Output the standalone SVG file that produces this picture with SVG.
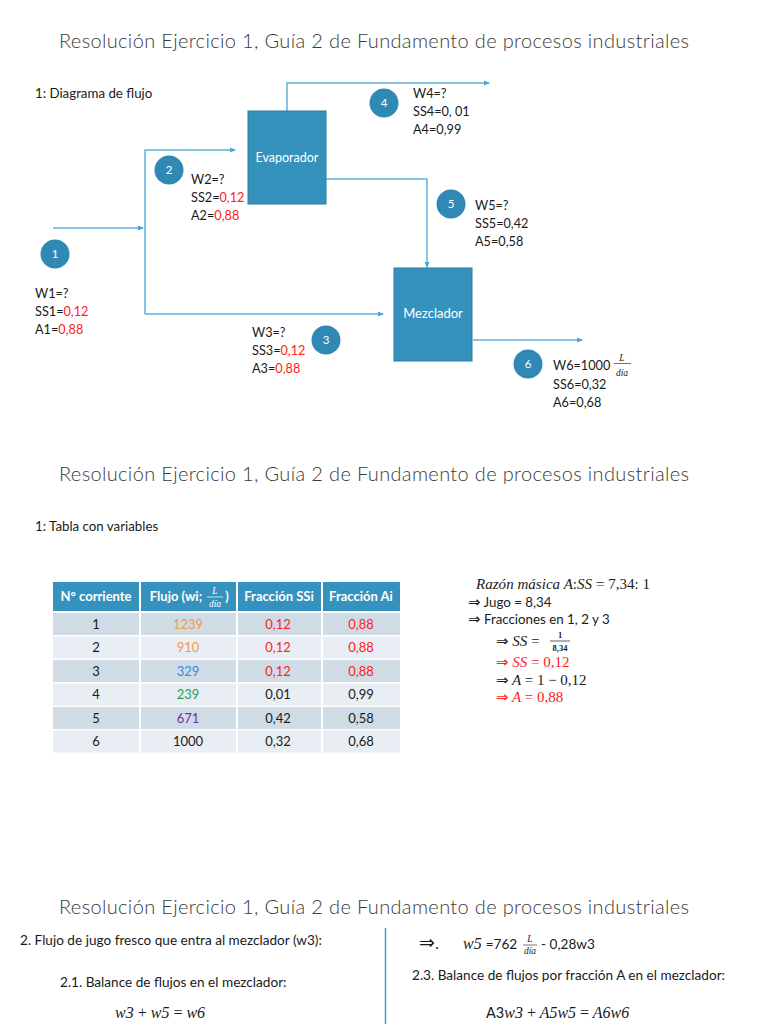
<svg xmlns="http://www.w3.org/2000/svg" width="768" height="1024" viewBox="0 0 768 1024">
<defs>
<marker id="arr" viewBox="0 0 6 6" refX="5" refY="3" markerWidth="6" markerHeight="6" markerUnits="userSpaceOnUse" orient="auto">
<path d="M0,0.5 L6,3 L0,5.5 Z" fill="#4BA6D3"/>
</marker>
<style>
.title{font-family:Lato,"Open Sans",sans-serif;font-size:20px;font-weight:300;fill:#3a3a3a}
.t{font-family:Lato,"Open Sans",sans-serif;font-size:12.7px;fill:#1a1a1a}
.s{font-family:Lato,"Open Sans",sans-serif;font-size:13.3px;fill:#1a1a1a}
.b{font-family:Lato,"Open Sans",sans-serif;font-size:13.6px;fill:#1a1a1a}
.r{fill:#FF2020}
.box{fill:#3592BD;stroke:#2C7DA6;stroke-width:1}
.boxt{font-family:Lato,"Open Sans",sans-serif;font-size:12.5px;fill:#FFFFFF;text-anchor:middle}
.circ{fill:#2F89B4}
.ct{font-family:Lato,"Open Sans",sans-serif;font-size:11.5px;fill:#FFFFFF;text-anchor:middle}
.ln{fill:none;stroke:#5DB2DA;stroke-width:1.5}
.hd{fill:#3592BE}
.odd{fill:#CFDCE6}
.even{fill:#E8EEF3}
.th{font-family:Lato,"Open Sans",sans-serif;font-size:13px;font-weight:bold;fill:#FFFFFF;text-anchor:middle}
.td{font-family:Lato,"Open Sans",sans-serif;font-size:13px;fill:#1a1a1a;text-anchor:middle}
.m{font-family:"Liberation Serif","DejaVu Serif",serif;font-style:italic;font-size:15px;fill:#1a1a1a}
.mb{font-family:"Liberation Serif","DejaVu Serif",serif;font-style:italic;font-size:16px;fill:#1a1a1a}
.up{font-style:normal}
.ar{font-family:"DejaVu Sans",sans-serif;font-style:normal;font-size:15px}
.fr{font-family:"Liberation Serif","DejaVu Serif",serif;font-style:italic;font-size:9.5px;fill:#1a1a1a;text-anchor:middle}
</style>
</defs>
<rect width="768" height="1024" fill="#FFFFFF"/>

<!-- Section 1 -->
<text class="title" x="59" y="48" textLength="630">Resolución Ejercicio 1, Guía 2 de Fundamento de procesos industriales</text>
<text class="s" x="35" y="98">1: Diagrama de flujo</text>

<g id="connectors">
<path class="ln" d="M53,228 H143" marker-end="url(#arr)"/>
<path class="ln" d="M145,314 V150 H235" marker-end="url(#arr)"/>
<path class="ln" d="M145,314 H383" marker-end="url(#arr)"/>
<path class="ln" d="M287,111 V83 H489" marker-end="url(#arr)"/>
<path class="ln" d="M326,179 H427 V267" marker-end="url(#arr)"/>
<path class="ln" d="M473,340 H582" marker-end="url(#arr)"/>
</g>

<g id="evaporador">
<rect class="box" x="248" y="111" width="78" height="93"/>
<text class="boxt" x="287" y="162" font-size="11.5">Evaporador</text>
</g>
<g id="mezclador">
<rect class="box" x="394" y="268" width="78" height="93"/>
<text class="boxt" x="433" y="318" style="font-size:13px">Mezclador</text>
</g>

<g id="s1">
<circle class="circ" cx="55" cy="254" r="14.5"/>
<text class="ct" x="55" y="258">1</text>
<text class="t" x="35" y="298">W1=?</text>
<text class="t" x="35" y="316">SS1=<tspan class="r">0,12</tspan></text>
<text class="t" x="35" y="334">A1=<tspan class="r">0,88</tspan></text>
</g>
<g id="s2">
<circle class="circ" cx="169" cy="170" r="14.5"/>
<text class="ct" x="169" y="174">2</text>
<text class="t" x="191" y="184">W2=?</text>
<text class="t" x="191" y="202">SS2=<tspan class="r">0,12</tspan></text>
<text class="t" x="191" y="220">A2=<tspan class="r">0,88</tspan></text>
</g>
<g id="s3">
<circle class="circ" cx="326" cy="340" r="14.5"/>
<text class="ct" x="326" y="344">3</text>
<text class="t" x="252" y="337">W3=?</text>
<text class="t" x="252" y="355">SS3=<tspan class="r">0,12</tspan></text>
<text class="t" x="252" y="373">A3=<tspan class="r">0,88</tspan></text>
</g>
<g id="s4">
<circle class="circ" cx="384" cy="103" r="14.5"/>
<text class="ct" x="384" y="107">4</text>
<text class="t" x="413" y="98">W4=?</text>
<text class="t" x="413" y="116">SS4=0, 01</text>
<text class="t" x="413" y="134">A4=0,99</text>
</g>
<g id="s5">
<circle class="circ" cx="451" cy="204" r="14.5"/>
<text class="ct" x="451" y="208">5</text>
<text class="t" x="475" y="210">W5=?</text>
<text class="t" x="475" y="228">SS5=0,42</text>
<text class="t" x="475" y="246">A5=0,58</text>
</g>
<g id="s6">
<circle class="circ" cx="528" cy="364" r="14.5"/>
<text class="ct" x="528" y="368">6</text>
<text class="t" x="553" y="370">W6=1000</text>
<text class="fr" x="622" y="361">L</text>
<line x1="614" y1="363.5" x2="631" y2="363.5" stroke="#1a1a1a" stroke-width="0.6"/>
<text class="fr" x="622" y="376">día</text>
<text class="t" x="553" y="389">SS6=0,32</text>
<text class="t" x="553" y="407">A6=0,68</text>
</g>

<!-- Section 2 -->
<text class="title" x="59" y="481" textLength="630">Resolución Ejercicio 1, Guía 2 de Fundamento de procesos industriales</text>
<text class="s" x="35" y="531">1: Tabla con variables</text>

<g id="tabla">
<rect class="hd" x="53" y="582" width="86" height="29"/>
<rect class="hd" x="141" y="582" width="95" height="29"/>
<rect class="hd" x="238" y="582" width="83" height="29"/>
<rect class="hd" x="323" y="582" width="77" height="29"/>
<text class="th" x="96" y="601">N° corriente</text>
<text class="th" x="176" y="601">Flujo (wi;</text>
<text class="fr" x="215" y="594" style="fill:#FFFFFF">L</text>
<line x1="207" y1="597" x2="223" y2="597" stroke="#FFFFFF" stroke-width="0.7"/>
<text class="fr" x="215" y="607" style="fill:#FFFFFF">día</text>
<text class="th" x="227" y="601">)</text>
<text class="th" x="279" y="601">Fracción SSi</text>
<text class="th" x="361" y="601">Fracción Ai</text>

<g class="row">
<rect class="odd" x="53" y="613" width="86" height="22"/><rect class="odd" x="141" y="613" width="95" height="22"/><rect class="odd" x="238" y="613" width="83" height="22"/><rect class="odd" x="323" y="613" width="77" height="22"/>
<text class="td" x="96" y="628.5">1</text><text class="td" x="188" y="628.5" style="fill:#F79646">1239</text><text class="td" x="278" y="628.5" style="fill:#FF2020">0,12</text><text class="td" x="361" y="628.5" style="fill:#FF2020">0,88</text>
</g>
<g class="row">
<rect class="even" x="53" y="636.5" width="86" height="22"/><rect class="even" x="141" y="636.5" width="95" height="22"/><rect class="even" x="238" y="636.5" width="83" height="22"/><rect class="even" x="323" y="636.5" width="77" height="22"/>
<text class="td" x="96" y="652">2</text><text class="td" x="188" y="652" style="fill:#F79646">910</text><text class="td" x="278" y="652" style="fill:#FF2020">0,12</text><text class="td" x="361" y="652" style="fill:#FF2020">0,88</text>
</g>
<g class="row">
<rect class="odd" x="53" y="660" width="86" height="22"/><rect class="odd" x="141" y="660" width="95" height="22"/><rect class="odd" x="238" y="660" width="83" height="22"/><rect class="odd" x="323" y="660" width="77" height="22"/>
<text class="td" x="96" y="675.5">3</text><text class="td" x="188" y="675.5" style="fill:#3B8AD6">329</text><text class="td" x="278" y="675.5" style="fill:#FF2020">0,12</text><text class="td" x="361" y="675.5" style="fill:#FF2020">0,88</text>
</g>
<g class="row">
<rect class="even" x="53" y="683.5" width="86" height="22"/><rect class="even" x="141" y="683.5" width="95" height="22"/><rect class="even" x="238" y="683.5" width="83" height="22"/><rect class="even" x="323" y="683.5" width="77" height="22"/>
<text class="td" x="96" y="699">4</text><text class="td" x="188" y="699" style="fill:#1F9E50">239</text><text class="td" x="278" y="699">0,01</text><text class="td" x="361" y="699">0,99</text>
</g>
<g class="row">
<rect class="odd" x="53" y="707" width="86" height="22"/><rect class="odd" x="141" y="707" width="95" height="22"/><rect class="odd" x="238" y="707" width="83" height="22"/><rect class="odd" x="323" y="707" width="77" height="22"/>
<text class="td" x="96" y="722.5">5</text><text class="td" x="188" y="722.5" style="fill:#7030A0">671</text><text class="td" x="278" y="722.5">0,42</text><text class="td" x="361" y="722.5">0,58</text>
</g>
<g class="row">
<rect class="even" x="53" y="730.5" width="86" height="22"/><rect class="even" x="141" y="730.5" width="95" height="22"/><rect class="even" x="238" y="730.5" width="83" height="22"/><rect class="even" x="323" y="730.5" width="77" height="22"/>
<text class="td" x="96" y="746">6</text><text class="td" x="188" y="746">1000</text><text class="td" x="278" y="746">0,32</text><text class="td" x="361" y="746">0,68</text>
</g>
</g>

<g id="razon">
<text class="m" x="476" y="589" textLength="174">Razón másica A<tspan class="up">:</tspan>SS <tspan class="up">= 7,34: 1</tspan></text>
<text class="s" x="468" y="607"><tspan class="ar">⇒</tspan> Jugo = 8,34</text>
<text class="s" x="468" y="624"><tspan class="ar">⇒</tspan> Fracciones en 1, 2 y 3</text>
<text class="m" x="496" y="646"><tspan class="ar">⇒</tspan> SS <tspan class="up">=</tspan></text>
<text x="560" y="638" style="font-family:'Liberation Serif',serif;font-size:8.5px;font-weight:bold;fill:#1a1a1a;text-anchor:middle">1</text>
<line x1="550" y1="641" x2="570" y2="641" stroke="#1a1a1a" stroke-width="0.7"/>
<text x="560" y="651" style="font-family:'Liberation Serif',serif;font-size:8.5px;font-weight:bold;fill:#1a1a1a;text-anchor:middle">8,34</text>
<text class="m" x="496" y="667" style="fill:#FF2020"><tspan class="ar">⇒</tspan> SS <tspan class="up">= 0,12</tspan></text>
<text class="m" x="496" y="684.5"><tspan class="ar">⇒</tspan> A <tspan class="up">= 1 − 0,12</tspan></text>
<text class="m" x="496" y="702"><tspan class="ar" style="fill:#FF2020">⇒</tspan><tspan style="fill:#FF2020"> A </tspan><tspan class="up" style="fill:#FF2020">= 0,88</tspan></text>
</g>

<!-- Section 3 -->
<text class="title" x="59" y="914" textLength="630">Resolución Ejercicio 1, Guía 2 de Fundamento de procesos industriales</text>
<line x1="385.5" y1="928" x2="385.5" y2="1024" stroke="#3C9BD3" stroke-width="1.5"/>
<text class="b" x="20" y="945">2. Flujo de jugo fresco que entra al mezclador (w3):</text>
<text class="b" x="60" y="987">2.1. Balance de flujos en el mezclador:</text>
<text class="mb" x="115" y="1018">w3 <tspan class="up">+</tspan> w5 <tspan class="up">=</tspan> w6</text>

<text class="mb" x="419" y="949"><tspan class="ar" style="font-size:19px">⇒</tspan><tspan class="up">.</tspan></text>
<text class="mb" x="463" y="949">w5 <tspan class="up" style="font-family:Lato,sans-serif;font-size:13.6px">=762</tspan></text>
<text class="fr" x="530" y="942">L</text>
<line x1="523" y1="945" x2="537" y2="945" stroke="#1a1a1a" stroke-width="0.6"/>
<text class="fr" x="530" y="954">día</text>
<text class="b" x="541" y="949">- 0,28w3</text>
<text class="b" x="412" y="980">2.3. Balance de flujos por fracción A en el mezclador:</text>
<text class="mb" x="486" y="1018"><tspan class="up" style="font-family:Lato,sans-serif;font-size:14.5px">A3</tspan>w3 <tspan class="up">+</tspan> A5w5 <tspan class="up">=</tspan> A6w6</text>
</svg>
